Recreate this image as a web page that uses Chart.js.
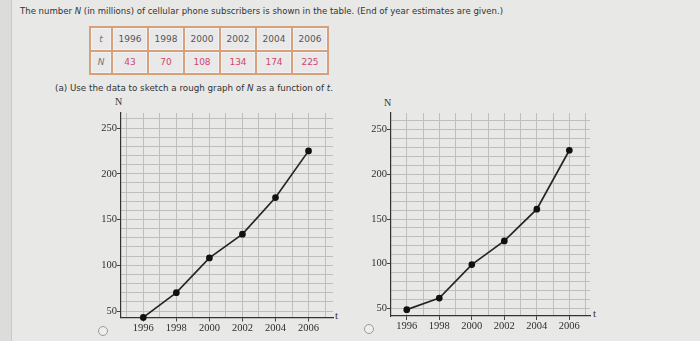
<!DOCTYPE html>
<html>
<head>
<meta charset="utf-8">
<script src="https://cdn.jsdelivr.net/npm/chart.js@4.4.1/dist/chart.umd.min.js"></script>
<style>
  html, body { margin: 0; padding: 0; }
  body { width: 700px; height: 341px; position: relative; overflow: hidden;
         background: #e8e8e6; font-family: "DejaVu Sans", Verdana, sans-serif; color: #333; }
  .strip { position: absolute; left: 0; top: 0; width: 11px; height: 341px; background: #dcdcda; border-right: 1px solid #c9c9c7; }
  .txt { position: absolute; white-space: nowrap; font-size: 9.5px; transform-origin: 0 50%; }
  table { position: absolute; left: 89px; top: 26px; width: 240px; height: 49px; table-layout: fixed;
          border-collapse: collapse; font-size: 9px; }
  td { border: 2px solid #d6a07c; background: #e9e9e9; box-shadow: inset 0 0 0 1px #f3f3f3;
       text-align: center; color: #555; padding: 0; }
  td.h { width: 20px; font-style: italic; color: #777; }
  td.v { color: #d2456e; }
  .serif { position: absolute; font-family: "Liberation Serif", serif; color: #333; line-height: 1; }
  .radio { position: absolute; width: 8px; height: 8px; border: 1px solid #9a9a9a; border-radius: 50%; background: #eeeeec; }
  canvas { position: absolute; }
</style>
</head>
<body>
<div class="strip"></div>
<div class="txt" id="title" data-w="483" style="left:20px; top:5px;">The number <i>N</i> (in millions) of cellular phone subscribers is shown in the table. (End of year estimates are given.)</div>
<table id="tbl"></table>
<div class="txt" id="parta" data-w="278" style="left:55px; top:82px;">(a) Use the data to sketch a rough graph of <i>N</i> as a function of <i>t</i>.</div>

<div class="serif" style="left:115px; top:97px; font-size:10px;">N</div>
<div class="serif" style="left:384px; top:98px; font-size:10px;">N</div>
<div class="serif" style="left:335px; top:310px; font-size:11px;">t</div>
<div class="serif" style="left:593px; top:308px; font-size:11px;">t</div>
<div class="radio" style="left:98px; top:326px;"></div>
<div class="radio" style="left:364px; top:324px;"></div>

<canvas id="chartA" width="262" height="240" style="left:88px; top:100px;"></canvas>
<canvas id="chartB" width="250" height="240" style="left:356px; top:100px;"></canvas>

<script>
// table values
const years = [1996, 1998, 2000, 2002, 2004, 2006];
const subscribers = [43, 70, 108, 134, 174, 225];

// the two sketched answer graphs
const sketchA = [43, 70, 108, 134, 174, 225];
const sketchB = [48.5, 61.5, 99, 125.5, 161, 227];

// axis ticks
const yearLabels = [1996, 1998, 2000, 2002, 2004, 2006];
const nLabels = [50, 100, 150, 200, 250];

// fill the table
const tbl = document.getElementById('tbl');
let row1 = '<tr><td class="h">t</td>';
let row2 = '<tr><td class="h">N</td>';
for (let i = 0; i < years.length; i++) {
  row1 += '<td>' + years[i] + '</td>';
  row2 += '<td class="v">' + subscribers[i] + '</td>';
}
tbl.innerHTML = row1 + '</tr>' + row2 + '</tr>';

// squeeze text lines to their width in the picture
document.querySelectorAll('.txt').forEach(el => {
  const w = el.getBoundingClientRect().width;
  el.style.transform = 'scaleX(' + (el.dataset.w / w) + ')';
});

const gridYears = [];
for (let y = 1995; y <= 2007; y++) gridYears.push(y);
const gridN = [];
for (let n = 50; n <= 260; n += 10) gridN.push(n);

Chart.defaults.font.family = '"Liberation Serif", serif';
Chart.defaults.font.size = 10.5;
Chart.defaults.color = '#2e2e2e';

function makeChart(id, values, x0, x1, y0, y1, yWidth, xHeight, padRight) {
  return new Chart(document.getElementById(id), {
    type: 'scatter',
    data: {
      datasets: [{
        data: years.map((t, i) => ({ x: t, y: values[i] })),
        showLine: true,
        borderColor: '#262626',
        borderWidth: 1.7,
        pointBackgroundColor: '#111',
        pointBorderColor: '#111',
        pointRadius: 2.5,
        clip: false,
      }],
    },
    options: {
      responsive: false,
      animation: false,
      layout: { padding: { top: 13, right: padRight, left: 0, bottom: 0 } },
      plugins: { legend: { display: false }, tooltip: { enabled: false } },
      scales: {
        x: {
          type: 'linear', min: x0, max: x1,
          afterBuildTicks: s => { s.ticks = gridYears.map(v => ({ value: v })); },
          afterFit: s => { s.height = xHeight; },
          ticks: {
            autoSkip: false, maxRotation: 0, padding: 0,
            callback: v => yearLabels.includes(v) ? String(v) : '',
          },
          grid: {
            color: '#bebebc', lineWidth: 1, tickLength: 4,
            tickColor: c => yearLabels.includes(c.tick && c.tick.value) ? '#444' : 'rgba(0,0,0,0)',
          },
          border: { color: '#333', width: 1.2 },
        },
        y: {
          type: 'linear', min: y0, max: y1,
          afterBuildTicks: s => { s.ticks = gridN.map(v => ({ value: v })); },
          afterFit: s => { s.width = yWidth; },
          ticks: {
            autoSkip: false, padding: 0,
            callback: v => nLabels.includes(v) ? String(v) : '',
          },
          grid: {
            color: '#bebebc', lineWidth: 1, tickLength: 4,
            tickColor: c => nLabels.includes(c.tick && c.tick.value) ? '#444' : 'rgba(0,0,0,0)',
          },
          border: { color: '#333', width: 1.2 },
        },
      },
    },
  });
}

makeChart('chartA', sketchA, 1994.65, 2007.48, 42.9, 266.4, 33, 22.5, 17);
makeChart('chartB', sketchB, 1995.03, 2007.27, 41.4, 268.7, 35, 24, 16);
</script>
</body>
</html>
